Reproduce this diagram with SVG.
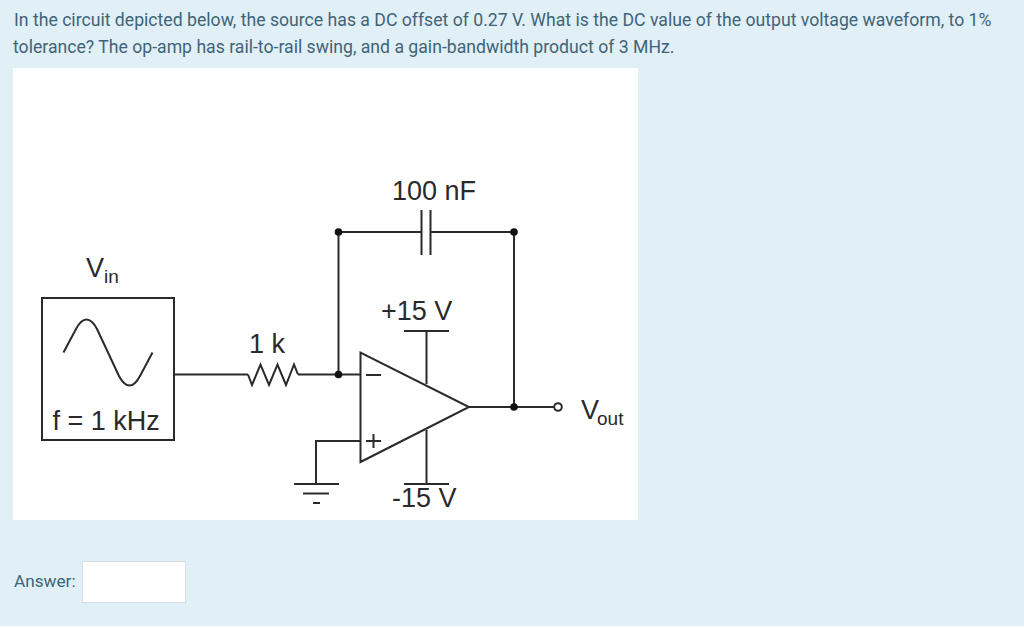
<svg xmlns="http://www.w3.org/2000/svg" width="1024" height="628" viewBox="0 0 1024 628">
<style>
.q{font-family:Roboto,"Liberation Sans",sans-serif;font-size:17.65px;fill:#3f6478}
.t{font-family:"Liberation Sans",Arial,sans-serif;font-size:27px;fill:#2a2a2a}
.s{font-family:"Liberation Sans",Arial,sans-serif;font-size:19px;fill:#2a2a2a}
.w{fill:none;stroke:#2a2a2a;stroke-width:2;stroke-linejoin:miter}
.d{fill:#111}
</style>
<rect width="1024" height="628" fill="#fff"/>
<rect width="1024" height="626" fill="#e1eff7"/>
<text class="q" x="14" y="25.500">In the circuit depicted below, the source has a DC offset of 0.27 V. What is the DC value of the output voltage waveform, to 1%</text>
<text class="q" x="13" y="52.500">tolerance? The op-amp has rail-to-rail swing, and a gain-bandwidth product of 3 MHz.</text>
<rect x="13" y="68" width="625" height="452" fill="#fff"/>
<g id="source">
<rect class="w" x="42" y="298" width="132" height="142"/>
<path class="w" d="M63.500 352.500L76 329Q81 319.500 86.500 319.500Q92 319.500 97 329L119 376Q124 385.500 129.500 385.500Q135 385.500 140 376L152.500 352.500"/>
<text class="t" x="52.500" y="430">f = 1 kHz</text>
<text class="t" x="86" y="276.500">V</text><text class="s" x="104" y="283">in</text>
</g>
<g id="resistor">
<path class="w" d="M248 374.500L252 385 260.500 364.500 269 385 277.500 364.500 286 385 294 364.500 298 374.500"/>
<text class="t" x="249" y="353">1 k</text>
</g>
<g id="capacitor">
<path class="w" d="M421.500 210V255M430.500 210V255"/>
<text class="t" x="392" y="200">100 nF</text>
</g>
<g id="opamp">
<path class="w" d="M360.500 352.500V462L469 407Z"/>
<path class="w" d="M366 375H381M366 441H381M373.500 434V448"/>
</g>
<g id="supply-pos">
<path class="w" d="M404 331H449"/>
<text class="t" x="381" y="320">+15 V</text>
</g>
<g id="supply-neg">
<path class="w" d="M404 484H449"/>
<text class="t" x="392" y="507">-15 V</text>
</g>
<g id="ground">
<path class="w" d="M294 484H339M303 493.500H329M313 503H320"/>
</g>
<g id="vout">
<circle cx="558" cy="407" r="3.800" fill="#fff" stroke="#2a2a2a" stroke-width="2"/>
<text class="t" x="581" y="418.500">V</text><text class="s" x="597" y="425">out</text>
</g>
<g id="connectors">
<path class="w" d="M174 374.500H248M298 374.500H360.500M338.500 374.500V232H421.500M430.500 232H514V407M469 407H554M426.500 331V384M426.500 430V484M360.500 441H316V484"/>
<circle class="d" cx="338.500" cy="232" r="3.800"/><circle class="d" cx="514" cy="232" r="3.800"/><circle class="d" cx="338.500" cy="374.500" r="3.800"/><circle class="d" cx="514" cy="407" r="3.800"/>
</g>
<g id="answer">
<text class="q" x="14" y="587" style="font-size:17.2px">Answer:</text>
<rect x="82.500" y="561.500" width="103" height="41" fill="#fff" stroke="#d5dde2"/>
</g>
</svg>
